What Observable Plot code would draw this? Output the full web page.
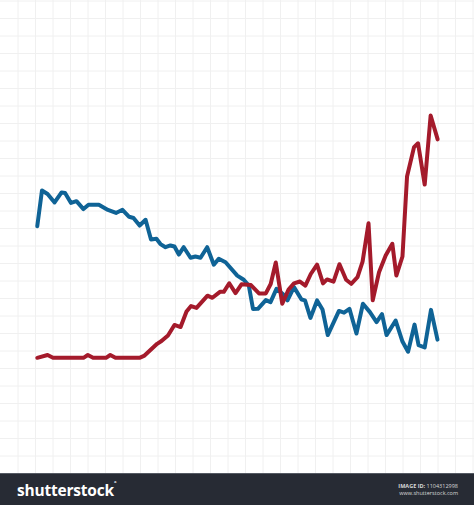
<!DOCTYPE html>
<html>
<head>
<meta charset="utf-8">
<script src="https://cdn.jsdelivr.net/npm/d3@7"></script>
<script src="https://cdn.jsdelivr.net/npm/@observablehq/plot@0.6"></script>
<style>
  html, body { margin: 0; padding: 0; background: #fff; }
  #chart svg { display: block; }
  #footer {
    width: 474px; height: 32px; background: #272b34; position: relative;
    font-family: "Open Sans", "DejaVu Sans", sans-serif; color: #fff;
    border-top: 1px solid #555a63; box-sizing: border-box;
  }
  #logo { position: absolute; left: 17px; top: 5px; font-size: 15.5px; font-weight: 700; letter-spacing: -0.2px; }
  #imgid { position: absolute; right: 16px; top: 9px; font-size: 5.5px; text-align: right; color: #d8d8d8; line-height: 7px; }
</style>
</head>
<body>
<div id="chart"></div>
<div id="footer"><div id="logo">shutterstock<span style="font-size:6px;vertical-align:top">°</span></div><div id="imgid"><b>IMAGE ID:</b> 1104312998<br>www.shutterstock.com</div></div>
<script>
// x: time position (grid units), y: value (grid units)
const blueX = [2.10,2.37,2.69,3.09,3.49,3.69,4.03,4.34,4.74,5.03,5.62,6.14,6.60,6.97,7.35,7.60,7.95,8.29,8.60,8.91,9.14,9.43,9.71,9.94,10.19,10.47,10.86,11.14,11.43,11.81,12.19,12.47,12.86,13.53,13.90,14.19,14.43,14.71,15.16,15.43,15.77,16.17,16.40,16.77,17.20,17.40,17.71,18.09,18.40,18.70,19.34,19.63,19.94,20.34,20.71,21.11,21.49,21.80,22.06,22.58,22.97,23.29,23.66,23.89,24.24,24.60,24.97];
const blueY = [14.13,16.17,15.97,15.49,16.06,16.03,15.46,15.56,15.11,15.36,15.36,15.06,14.89,15.07,14.67,14.60,14.17,14.50,13.37,13.41,13.11,12.93,13.03,12.97,12.51,12.93,12.33,12.40,12.33,12.93,11.93,12.27,12.07,11.31,11.07,10.74,9.40,9.41,9.91,9.79,10.55,10.23,9.89,10.65,9.94,9.89,8.89,9.89,9.37,7.91,9.29,9.19,9.41,8.00,9.70,9.22,8.65,9.11,7.91,8.74,7.54,6.96,8.51,7.34,7.20,9.35,7.65];
const redX = [2.10,2.69,3.00,4.74,4.99,5.29,6.03,6.27,6.57,7.94,8.23,8.95,9.20,9.57,9.94,10.29,10.63,10.89,11.20,11.83,12.11,12.54,12.76,13.07,13.43,13.77,14.31,14.77,15.16,15.44,15.73,16.10,16.46,16.77,17.11,17.42,17.73,18.09,18.43,18.66,19.03,19.37,19.75,20.04,20.40,20.69,21.03,21.27,21.63,22.01,22.39,22.62,22.97,23.23,23.63,23.86,24.24,24.58,24.98];
const redY = [6.61,6.77,6.61,6.61,6.77,6.61,6.61,6.77,6.61,6.61,6.74,7.41,7.57,7.89,8.49,8.37,9.26,9.57,9.46,10.16,10.04,10.38,10.38,10.87,10.31,10.81,10.77,10.29,10.29,10.83,12.06,9.70,10.51,10.86,10.97,10.74,11.40,11.94,10.86,11.09,10.96,11.96,11.07,10.84,11.22,12.11,14.30,9.90,11.50,12.46,13.13,11.31,12.40,16.97,18.65,18.87,16.51,20.46,19.09];
const gridXTicks = d3.range(1, 28);
const gridYTicks = d3.range(1, 28);

const blue = blueX.map((x, i) => ({x, y: blueY[i]}));
const red = redX.map((x, i) => ({x, y: redY[i]}));

const chart = Plot.plot({
  width: 474,
  height: 473,
  margin: 0,
  x: {domain: [0, 474 / 17.5], axis: null},
  y: {domain: [0, 473 / 17.5], axis: null},
  marks: [
    Plot.gridX(gridXTicks, {stroke: "#f0f0f0", strokeOpacity: 1}),
    Plot.gridY(gridYTicks, {stroke: "#f0f0f0", strokeOpacity: 1}),
    Plot.line(blue, {x: "x", y: "y", stroke: "#0f6396", strokeWidth: 4, strokeLinejoin: "round"}),
    Plot.line(red, {x: "x", y: "y", stroke: "#a41a2b", strokeWidth: 4, strokeLinejoin: "round"})
  ]
});
document.getElementById("chart").appendChild(chart);
</script>
</body>
</html>
